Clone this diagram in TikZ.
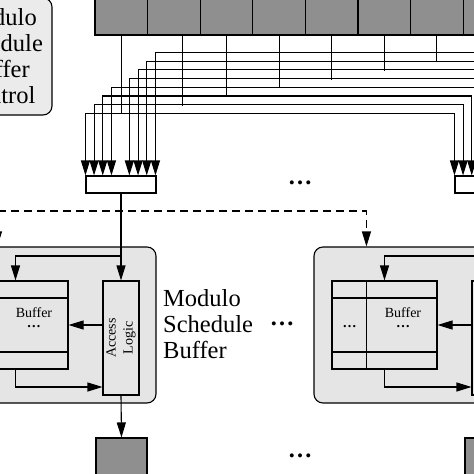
\documentclass[tikz,border=0pt]{standalone}
\usepackage{fontspec}
\setmainfont{Liberation Serif}
\usetikzlibrary{arrows.meta}

\definecolor{bankgray}{gray}{0.56}
\definecolor{modgray}{gray}{0.9}
\definecolor{ctrlgray}{gray}{0.92}

\begin{document}
\begin{tikzpicture}[x=1pt,y=-1pt,
        wire/.style={line width=1.1pt},
        arr/.style={wire,-{Triangle[length=15pt,width=9pt]}},
        bus/.style={wire,{Triangle[length=15pt,width=9pt]}-{Triangle[length=15pt,width=9pt]}},
        big/.style={font=\fontsize{24.5}{26}\selectfont},
        small/.style={font=\fontsize{14}{17}\selectfont},
        box/.style={draw,line width=1.1pt,inner sep=0pt}]

        \useasboundingbox (0,0) rectangle (474,474);
        \clip (0,0) rectangle (474,474);

        % control box and memory banks
        \node[box,big,fill=ctrlgray,rounded corners=9pt,minimum width=108pt,minimum height=117pt,align=center] (ctrl) at (-2,56.5) {Modulo\\Schedule\\Buffer\\Control};

        \begin{scope}[every node/.style={box,fill=bankgray,minimum width=52.6pt,minimum height=65pt}]
          \foreach \j in {1,...,8}
            \node (b\j) at ({68.7+52.6*\j},2.5) {};
        \end{scope}

        \begin{scope}[every node/.style={box,fill=white,minimum width=70pt,minimum height=17pt}]
          \node (selL) at (121,184.5) {};
          \node (selR) at (490,184.5) {};
        \end{scope}

        \foreach \j/\dx/\i in {1/0/7,2/9/6,3/0/5,4/0/4,5/0/3,6/0/2,7/0/1,8/0/0}
          \draw[wire] ([xshift=\dx pt]b\j.south) -- ++(0,{18+8.7*\i});

        \foreach \i/\off in {0/70,1/61.3,2/52.6,3/43.9,4/26,5/17.3,6/8.6,7/0}
          \draw[bus] ([xshift=\off pt]selL.north west) -- ++(0,{-123+8.7*\i}) -| ([xshift=\off pt]selR.north west);

        % modulo schedule buffers
        \foreach \m/\dx in {L/0,R/369} {
          \node[box,fill=modgray,rounded corners=9pt,minimum width=211pt,minimum height=156pt] (mod\m) at ({50.5+\dx},325) {};
          \node[box,fill=modgray,minimum width=105pt,minimum height=88pt] (buf\m) at ({15.5+\dx},325) {};
          \node[box,fill=modgray,minimum width=36pt,minimum height=114pt] (acc\m) at ({121+\dx},338) {};
          \node[box,fill=bankgray,minimum width=51pt,minimum height=72pt] (out\m) at ({121.5+\dx},474) {};
          \coordinate (div\m) at ([xshift=35pt]buf\m.north west);
          \draw[wire] (buf\m.west |- 0,298) -- (buf\m.east |- 0,298);
          \draw[wire] (buf\m.west |- 0,352) -- (buf\m.east |- 0,352);
          \draw[wire] (div\m) -- (div\m |- buf\m.south);
          \node[small,rotate=90,align=center] at (acc\m) {Access\\Logic};
          \node[small,anchor=base] at ({34+\dx},317) {Buffer};
          \node[small,anchor=base] at ({34+\dx},327) {\bfseries\dots};
          \node[small,anchor=base] at ({-19.5+\dx},327) {\bfseries\dots};
          \draw[arr] (sel\m.south) -- (acc\m.north);
          \draw[arr] (sel\m.south |- 0,256) -| (buf\m.north);
          \draw[arr] (acc\m.west |- buf\m.east) -- (buf\m.east);
          \draw[arr] (buf\m.south) |- (acc\m.west |- 0,387);
          \draw[arr] (acc\m.south) -- (out\m.north);
        }

        \coordinate (dsrc) at (-80,211);
        \draw[arr,dash pattern=on 8pt off 5pt] (dsrc) -| (divR |- modR.north);
        \draw[arr,dash pattern=on 8pt off 5pt] (divL |- dsrc) -- (divL |- modL.north);

        \node[big,anchor=west,align=left,inner sep=0pt] (msb) at (163,324.6) {Modulo\\Schedule\\Buffer};
        \node[big] (dotsA) at (300,183) {\bfseries\dots};
        \node[big] (dotsB) at (282,324) {\bfseries\dots};
        \node[big] (dotsC) at (300,456) {\bfseries\dots};

      \end{tikzpicture}
\end{document}
